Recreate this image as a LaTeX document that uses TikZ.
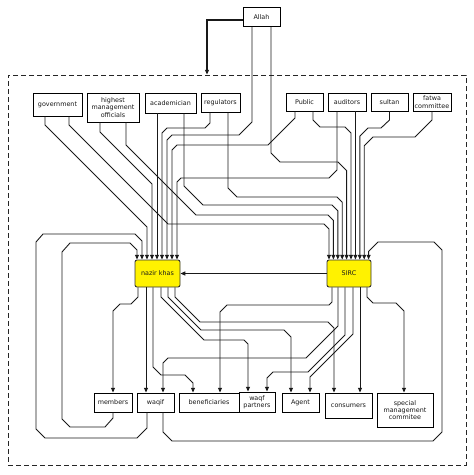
\documentclass[tikz,border=0pt]{standalone}
\usepackage{fontspec}
\setmainfont{DejaVu Sans}
\usetikzlibrary{arrows.meta,calc}
\begin{document}
\begin{tikzpicture}[x=1pt,y=-1pt,
  box/.style={draw=black,line width=0.9pt,fill=white,inner sep=0pt,align=center,text=black!90,font=\fontsize{6.4}{7.3}\selectfont},
  hub/.style={box,fill=yellow,rounded corners=2pt,draw=black!80},
  con/.style={draw=black!90,line width=0.9pt,-{Triangle[length=4.8pt,width=4pt]}},
  frm/.style={draw=black!85,line width=0.9pt,dash pattern=on 5pt off 3pt}
]
\useasboundingbox (0,0) rectangle (474,475);
\node[frm,minimum width=458pt,minimum height=390pt,inner sep=0pt] (frame) at (237,270) {};
% nodes
\node[box,minimum width=37pt,minimum height=19pt] (allah) at (261.5,17) {Allah};
\node[box,minimum width=49pt,minimum height=23pt] (gov) at (57.5,104.5) {government};
\node[box,minimum width=52pt,minimum height=29pt] (hmo) at (113,107.5) {highest\\management\\officials};
\node[box,minimum width=51pt,minimum height=20pt] (acad) at (170.5,103) {academician};
\node[box,minimum width=39pt,minimum height=19pt] (reg) at (220.5,102.5) {regulators};
\node[box,minimum width=37pt,minimum height=18pt] (pub) at (304.5,102) {Public};
\node[box,minimum width=38pt,minimum height=18pt] (aud) at (347,102) {auditors};
\node[box,minimum width=37pt,minimum height=18pt] (sul) at (389.5,102) {sultan};
\node[box,minimum width=38pt,minimum height=18pt] (fat) at (432,102) {fatwa\\committee};
\node[hub,minimum width=45pt,minimum height=27pt] (nk) at (157.5,273.5) {nazir khas};
\node[hub,minimum width=44pt,minimum height=27pt] (sirc) at (349,273.5) {SIRC};
\node[box,minimum width=38pt,minimum height=19pt] (mem) at (113,402.5) {members};
\node[box,minimum width=37pt,minimum height=19pt] (waq) at (155.5,402.5) {waqif};
\node[box,minimum width=60pt,minimum height=19pt] (ben) at (209,402.5) {beneficiaries};
\node[box,minimum width=36pt,minimum height=20pt] (wp) at (257,402) {waqf\\partners};
\node[box,minimum width=37pt,minimum height=19pt] (agt) at (300.5,402.5) {Agent};
\node[box,minimum width=47pt,minimum height=25pt] (con) at (348.5,405.5) {consumers};
\node[box,minimum width=56pt,minimum height=34pt] (smc) at (405,410) {special\\management\\commitee};
% Allah to frame
\draw[con,line width=1.4pt] ([yshift=-3pt]allah.west) -- (207,20) -- ([xshift=-30pt]frame.north);
% top to nazir khas
\draw[con] ([xshift=-12.5pt]gov.south) -- (45,125) -- (147,227) -- ([xshift=-10.5pt]nk.north);
\draw[con] ([xshift=-13pt]hmo.south) -- (100,132) -- (152,184) -- ([xshift=-5.5pt]nk.north);
\draw[con] ([xshift=-13.5pt]acad.south) -- ([xshift=-0.5pt]nk.north);
\draw[con] ([xshift=-10.5pt]reg.south) -- (210,123) -- (205,128) -- (167,128) -- (162,133) -- ([xshift=4.5pt]nk.north);
\draw[con] ([xshift=-9.5pt]allah.south) -- (252,122) -- (239,135) -- (172,135) -- (167,140) -- ([xshift=9.5pt]nk.north);
\draw[con] ([xshift=-9.5pt]pub.south) -- (295,118) -- (268,145) -- (177,145) -- (172,150) -- ([xshift=14.5pt]nk.north);
\draw[con] ([xshift=-10pt]aud.south) -- (337,170) -- (329,178) -- (181,178) -- (177,182) -- ([xshift=19.5pt]nk.north);
% loops
\draw[con] (mem.south) -- (113,418) -- (105,427) -- (70,427) -- (62,419) -- (62,252) -- (70,243) -- (130,243) -- (137,250) -- ([xshift=-20.5pt]nk.north);
\draw[con] ([xshift=-8.5pt]waq.south) -- (147,428) -- (137,438) -- (45,438) -- (36,429) -- (36,242) -- (43,234) -- (135,234) -- (142,241) -- ([xshift=-15.5pt]nk.north);
\draw[con] ([xshift=7.5pt]waq.south) -- (163,432) -- (172,441) -- (433,441) -- (442,432) -- (442,250) -- (434,242) -- (378,242) -- (368.6,251.4) -- ([xshift=19.6pt]sirc.north);
% top to SIRC
\draw[con] ([xshift=11.5pt]gov.south) -- (69,125) -- (168,224) -- (324,224) -- (329,229) -- ([xshift=-20pt]sirc.north);
\draw[con] ([xshift=13pt]hmo.south) -- (126,145) -- (196,215) -- (328,215) -- (333.4,220.4) -- ([xshift=-15.6pt]sirc.north);
\draw[con] ([xshift=13.5pt]acad.south) -- (184,186) -- (203,205) -- (332,205) -- (337.8,210.8) -- ([xshift=-11.2pt]sirc.north);
\draw[con] ([xshift=7.5pt]reg.south) -- (228,188) -- (237,197) -- (337,197) -- (342.2,202.2) -- ([xshift=-6.8pt]sirc.north);
\draw[con] ([xshift=9.5pt]allah.south) -- (271,153) -- (280,162) -- (338,162) -- (346.6,170.6) -- ([xshift=-2.4pt]sirc.north);
\draw[con] ([xshift=8.5pt]pub.south) -- (313,120) -- (320,127) -- (345,127) -- (351,133) -- ([xshift=2pt]sirc.north);
\draw[con] ([xshift=8.4pt]aud.south) -- ([xshift=6.4pt]sirc.north);
\draw[con] (sul.south) -- (389.5,120) -- (381,128) -- (368,128) -- (359.8,136.2) -- ([xshift=10.8pt]sirc.north);
\draw[con] (fat.south) -- (432,120) -- (415,137) -- (373,137) -- (364.2,145.8) -- ([xshift=15.2pt]sirc.north);
% SIRC to nazir khas
\draw[con] (sirc.west) -- (nk.east);
% nazir khas to bottom
\draw[con] ([xshift=-19.5pt]nk.south) -- (138,297) -- (131,304) -- (120,304) -- (113,311) -- (mem.north);
\draw[con] ([xshift=-11.5pt]nk.south) -- ([xshift=-9.5pt]waq.north);
\draw[con] ([xshift=-4.5pt]nk.south) -- (153,367) -- (161,375) -- (185,375) -- (193,383) -- ([xshift=-16pt]ben.north);
\draw[con] ([xshift=3.5pt]nk.south) -- (161,297) -- (204,340) -- (244,340) -- (248,344) -- ([xshift=-9pt]wp.north);
\draw[con] ([xshift=10.5pt]nk.south) -- (168,297) -- (201,330) -- (284,330) -- (291,337) -- ([xshift=-9.5pt]agt.north);
\draw[con] ([xshift=17.5pt]nk.south) -- (175,297) -- (200,322) -- (328,322) -- (334,328) -- ([xshift=-14.5pt]con.north);
% SIRC to bottom
\draw[con] ([xshift=-17pt]sirc.south) -- (332,302) -- (329,305) -- (227,305) -- (220,312) -- ([xshift=11pt]ben.north);
\draw[con] ([xshift=-11pt]sirc.south) -- (338,326) -- (306,358) -- (168,358) -- (163,363) -- ([xshift=7.5pt]waq.north);
\draw[con] ([xshift=-4pt]sirc.south) -- (345,335) -- (308,372) -- (273,372) -- (267,378) -- ([xshift=10pt]wp.north);
\draw[con] ([xshift=4pt]sirc.south) -- (353,334) -- (310,377) -- ([xshift=9.5pt]agt.north);
\draw[con] ([xshift=11pt]sirc.south) -- ([xshift=11.5pt]con.north);
\draw[con] ([xshift=18pt]sirc.south) -- (367,297) -- (373,303) -- (396,303) -- (404,311) -- ([xshift=-1pt]smc.north);
\end{tikzpicture}
\end{document}
